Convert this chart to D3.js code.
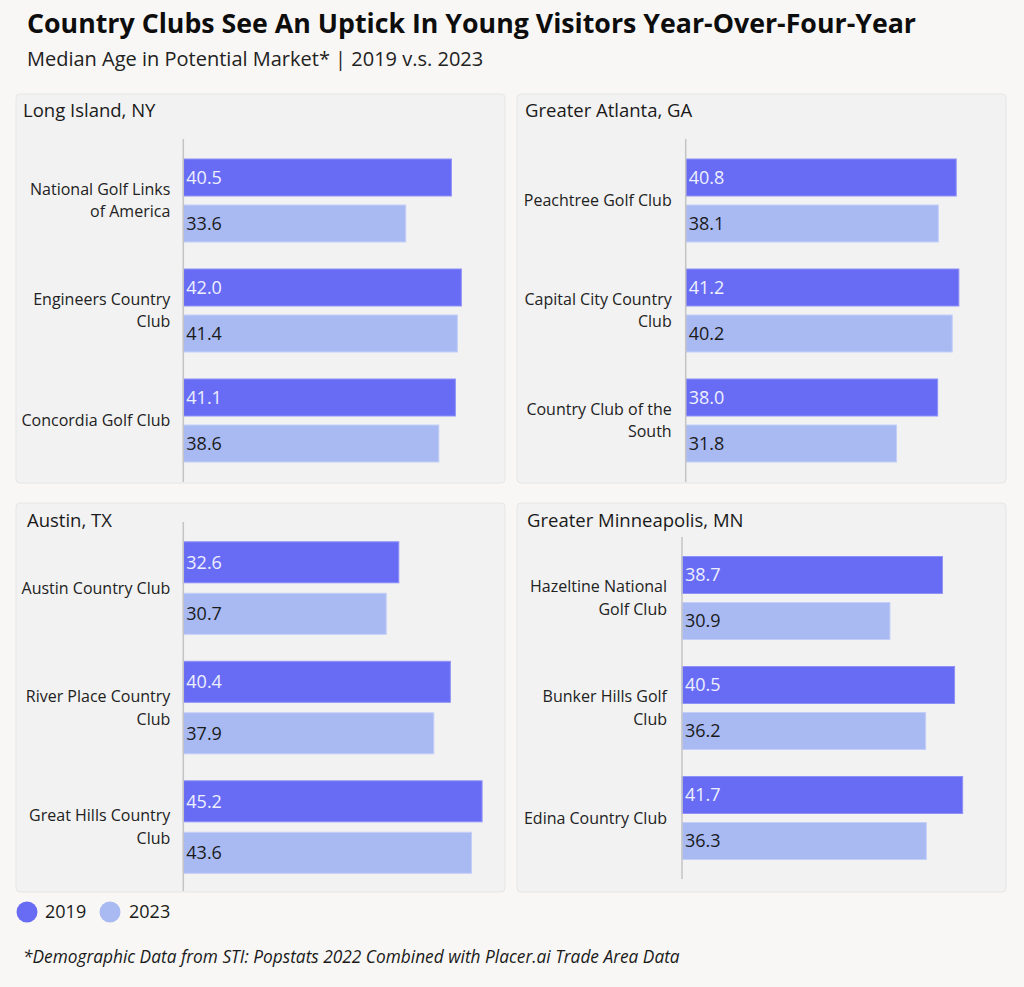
<!DOCTYPE html>
<html>
<head>
<meta charset="utf-8">
<script src="https://cdn.jsdelivr.net/npm/d3@7"></script>
<style>
  html, body { margin: 0; padding: 0; background: #f8f7f5; }
  svg { display: block; font-family: "Open Sans", sans-serif; }
</style>
</head>
<body>
<svg id="chart"></svg>
<script>
// Data
const regions = ["Long Island, NY", "Greater Atlanta, GA", "Austin, TX", "Greater Minneapolis, MN"];
const years = ["2019", "2023"];
const clubs = [
  ["National Golf Links of America", "Engineers Country Club", "Concordia Golf Club"],
  ["Peachtree Golf Club", "Capital City Country Club", "Country Club of the South"],
  ["Austin Country Club", "River Place Country Club", "Great Hills Country Club"],
  ["Hazeltine National Golf Club", "Bunker Hills Golf Club", "Edina Country Club"]
];
const age2019 = [
  [40.5, 42.0, 41.1],
  [40.8, 41.2, 38.0],
  [32.6, 40.4, 45.2],
  [38.7, 40.5, 41.7]
];
const age2023 = [
  [33.6, 41.4, 38.6],
  [38.1, 40.2, 31.8],
  [30.7, 37.9, 43.6],
  [30.9, 36.2, 36.3]
];

const W = 1024, H = 987;
const colors = { "2019": "#686cf4", "2023": "#a9baf3" };
const strokes = { "2019": "#8e91f7", "2023": "#c4cff8" };
const labelColors = { "2019": "#eef0ff", "2023": "#1a1a1a" };

// panel geometry
const panels = [
  { x: 16, y: 94, w: 489, h: 389, tx: 23, ty: 117, axisX: 183.3, axisTop: 139, axisBot: 482, bandTop: 145.5, step: 110, barH: 37, gap: 9, ppu: 6.62, labelGap: 13 },
  { x: 517, y: 94, w: 489, h: 389, tx: 525, ty: 117, axisX: 685.7, axisTop: 139, axisBot: 482, bandTop: 145.5, step: 110, barH: 37, gap: 9, ppu: 6.63, labelGap: 14 },
  { x: 16, y: 503, w: 489, h: 389, tx: 27, ty: 527, axisX: 183.3, axisTop: 522, axisBot: 891, bandTop: 528.3, step: 119.5, barH: 41, gap: 10.5, ppu: 6.61, labelGap: 13 },
  { x: 517, y: 503, w: 489, h: 389, tx: 527, ty: 527, axisX: 682, axisTop: 537, axisBot: 879, bandTop: 543, step: 110, barH: 37, gap: 9, ppu: 6.73, labelGap: 15 }
];

const svg = d3.select("#chart").attr("width", W).attr("height", H);

svg.append("rect").attr("width", W).attr("height", H).attr("fill", "#f8f7f5");

// Title and subtitle
svg.append("text")
  .attr("x", 27).attr("y", 33)
  .attr("font-size", 26.5).attr("font-weight", 700).attr("fill", "#0d0d0d")
  .attr("textLength", 889).attr("lengthAdjust", "spacingAndGlyphs")
  .text("Country Clubs See An Uptick In Young Visitors Year-Over-Four-Year");
svg.append("text")
  .attr("x", 27).attr("y", 65.5)
  .attr("font-size", 20).attr("fill", "#222")
  .text("Median Age in Potential Market* | 2019 v.s. 2023");

function wrap(textSel, width) {
  textSel.each(function () {
    const text = d3.select(this);
    const words = text.text().split(/\s+/);
    const lines = [];
    let line = [];
    text.text(null);
    const probe = text.append("tspan");
    words.forEach(w => {
      line.push(w);
      probe.text(line.join(" "));
      if (probe.node().getComputedTextLength() > width && line.length > 1) {
        line.pop();
        lines.push(line.join(" "));
        line = [w];
      }
    });
    lines.push(line.join(" "));
    probe.remove();
    const lh = 22.7;
    const x = text.attr("x");
    lines.forEach((l, i) => {
      text.append("tspan")
        .attr("x", x)
        .attr("y", +text.attr("y") + (i - (lines.length - 1) / 2) * lh)
        .attr("dy", "0.35em")
        .text(l);
    });
  });
}

panels.forEach((p, pi) => {
  const g = svg.append("g");

  g.append("rect")
    .attr("x", p.x).attr("y", p.y).attr("width", p.w).attr("height", p.h)
    .attr("rx", 4)
    .attr("fill", "#f2f2f2").attr("stroke", "#e6e6e6");

  g.append("text")
    .attr("x", p.tx).attr("y", p.ty)
    .attr("font-size", 18.5).attr("fill", "#1a1a1a")
    .text(regions[pi]);

  const x = d3.scaleLinear().domain([0, 50]).range([p.axisX, p.axisX + 50 * p.ppu]);
  const y = d3.scaleBand().domain(clubs[pi])
    .range([p.bandTop, p.bandTop + p.step * clubs[pi].length]).padding(0);
  const inner = d3.scaleBand().domain(years)
    .range([(p.step - 2 * p.barH - p.gap) / 2, (p.step + 2 * p.barH + p.gap) / 2])
    .paddingInner(p.gap / (p.barH + p.gap)).paddingOuter(0);

  const rows = clubs[pi].map((c, i) => ({ club: c, vals: [
    { year: "2019", v: age2019[pi][i] },
    { year: "2023", v: age2023[pi][i] }
  ] }));

  const grp = g.selectAll(".club").data(rows).enter().append("g")
    .attr("transform", d => `translate(0,${y(d.club)})`);

  grp.selectAll("rect").data(d => d.vals).enter().append("rect")
    .attr("x", x(0))
    .attr("y", d => inner(d.year))
    .attr("width", d => x(d.v) - x(0))
    .attr("height", inner.bandwidth())
    .attr("fill", d => colors[d.year])
    .attr("stroke", d => strokes[d.year])
    .attr("stroke-width", 1);

  grp.selectAll(".val").data(d => d.vals).enter().append("text")
    .attr("x", x(0) + 3)
    .attr("y", d => inner(d.year) + inner.bandwidth() / 2)
    .attr("dy", "0.36em")
    .attr("font-size", 18)
    .attr("fill", d => labelColors[d.year])
    .text(d => d3.format(".1f")(d.v));

  // axis line
  g.append("line")
    .attr("x1", p.axisX).attr("x2", p.axisX)
    .attr("y1", p.axisTop).attr("y2", p.axisBot)
    .attr("stroke", "#c4c4c4").attr("stroke-width", 1.5);

  // category labels
  g.selectAll(".cat").data(clubs[pi]).enter().append("text")
    .attr("x", p.axisX - p.labelGap)
    .attr("y", d => y(d) + y.bandwidth() / 2)
    .attr("text-anchor", "end")
    .attr("font-size", 16)
    .attr("fill", "#222")
    .text(d => d)
    .call(wrap, 155);
});

// Legend
const legend = svg.append("g").attr("transform", "translate(0,912)");
const legendX = [27, 110];
years.forEach((yr, i) => {
  legend.append("circle").attr("cx", legendX[i]).attr("cy", 0).attr("r", 10.5).attr("fill", colors[yr]);
  legend.append("text").attr("x", legendX[i] + (i ? 19 : 18)).attr("y", 0).attr("dy", "0.35em")
    .attr("font-size", 18).attr("fill", "#1a1a1a").text(yr);
});

// Footnote
svg.append("text")
  .attr("x", 23).attr("y", 963)
  .attr("font-size", 17.3).attr("font-style", "italic").attr("fill", "#1a1a1a")
  .text("*Demographic Data from STI: Popstats 2022 Combined with Placer.ai Trade Area Data");
</script>
</body>
</html>
